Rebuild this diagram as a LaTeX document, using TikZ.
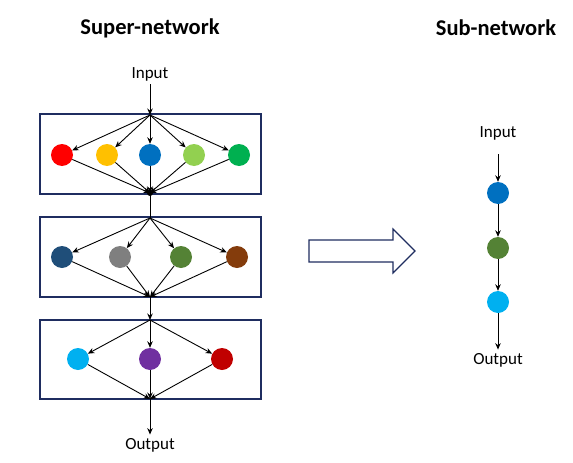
\documentclass[tikz,border=0pt]{standalone}
\usepackage{fontspec}
\setmainfont{Carlito}
\usepackage{tikz}
\usetikzlibrary{shapes, arrows.meta, positioning, calc}

\definecolor{navy}{RGB}{31,45,96}
\definecolor{cRed}{HTML}{FF0000}
\definecolor{cGold}{HTML}{FFC000}
\definecolor{cBlue}{HTML}{0070C0}
\definecolor{cLime}{HTML}{92D050}
\definecolor{cGreen}{HTML}{00B050}
\definecolor{cNavy}{HTML}{1F4E79}
\definecolor{cGray}{HTML}{7F7F7F}
\definecolor{cOlive}{HTML}{548235}
\definecolor{cBrown}{HTML}{843C0C}
\definecolor{cSky}{HTML}{00B0F0}
\definecolor{cPurple}{HTML}{7030A0}
\definecolor{cDark}{HTML}{C00000}

\begin{document}
\begin{tikzpicture}[x=1pt, y=-1pt,
                box/.style={draw=navy, line width=2pt},
                op/.style={circle, minimum size=22pt, inner sep=0pt},
                lbl/.style={font=\fontsize{17}{19}\selectfont},
                ttl/.style={font=\fontsize{22.5}{26}\selectfont\bfseries},
                arr/.style={-{Stealth[length=6.5pt, width=5.5pt]}, line width=0.9pt}]
                \useasboundingbox (0,0) rectangle (573,463);
                % titles
                \node[ttl] (supt) at (150,28) {Super-network};
                \node[ttl] (subt) at (496,28) {Sub-network};
                % super-network: boxes
                \draw[box] (40,114) rectangle (261,194);
                \draw[box] (40,217) rectangle (261,297);
                \draw[box] (40,320) rectangle (261,399);
                \node[lbl] (sin) at (150,74) {Input};
                \node[lbl] (sout) at (150,445) {Output};
                \coordinate (h1t) at (150,115);
                \coordinate (h1b) at (150,193);
                \coordinate (h2t) at (150,218);
                \coordinate (h2b) at (150,297);
                \coordinate (h3t) at (150,320);
                \coordinate (h3b) at (150,399);
                % first cell
                \node[op, fill=cRed] (a1) at (62,155) {};
                \node[op, fill=cGold] (a2) at (107,155) {};
                \node[op, fill=cBlue] (a3) at (150,155) {};
                \node[op, fill=cLime] (a4) at (194,155) {};
                \node[op, fill=cGreen] (a5) at (239,155) {};
                % second cell
                \node[op, fill=cNavy] (b1) at (62,257) {};
                \node[op, fill=cGray] (b2) at (120,257) {};
                \node[op, fill=cOlive] (b3) at (181,257) {};
                \node[op, fill=cBrown] (b4) at (237,257) {};
                % third cell
                \node[op, fill=cSky] (d1) at (78,359) {};
                \node[op, fill=cPurple] (d2) at (150,359) {};
                \node[op, fill=cDark] (d3) at (222,359) {};
                \draw[arr] (sin.south) -- (h1t);
                \foreach \n in {a1,a2,a3,a4,a5} {
                    \draw[arr] (h1t) -- (\n);
                    \draw[arr] (\n) -- (h1b);
                }
                \draw[line width=0.9pt] (h1b) -- (h2t);
                \fill (h1b) circle (3pt);
                \foreach \n in {b1,b2,b3,b4} {
                    \draw[arr] (h2t) -- (\n);
                    \draw[arr] (\n) -- (h2b);
                }
                \draw[arr] (h2b) -- (h3t);
                \foreach \n in {d1,d2,d3} {
                    \draw[arr] (h3t) -- (\n);
                    \draw[arr] (\n) -- (h3b);
                }
                \draw[arr] (h3b) -- (sout.north);
                % hollow arrow
                \draw[navy, line width=1.2pt, line join=miter]
                    (309,240) -- (393,240) -- (393,229) -- (415,251)
                    -- (393,273) -- (393,262) -- (309,262) -- cycle;
                % sub-network
                \node[lbl] (rin) at (498,133) {Input};
                \node[op, fill=cBlue] (r1) at (498,193) {};
                \node[op, fill=cOlive] (r2) at (498,248) {};
                \node[op, fill=cSky] (r3) at (498,302) {};
                \node[lbl] (rout) at (498,360) {Output};
                \draw[arr] (rin.south) ++(0,11) -- (r1);
                \draw[arr] (r1) -- (r2);
                \draw[arr] (r2) -- (r3);
                \draw[arr] (r3) -- (rout.north);
            \end{tikzpicture}
\end{document}
